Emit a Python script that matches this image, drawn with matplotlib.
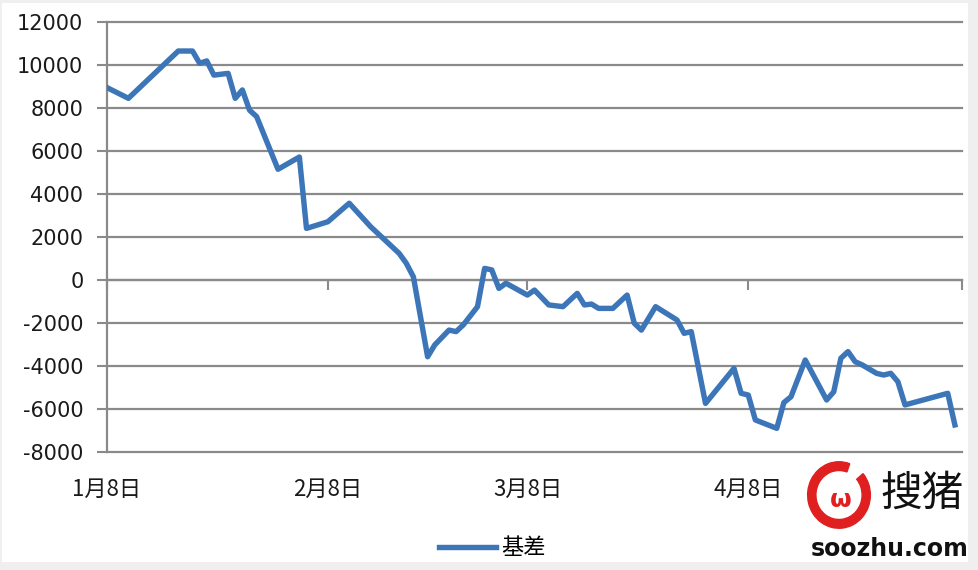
import numpy as np
import matplotlib
matplotlib.use('Agg')
from matplotlib import pyplot as plt
from matplotlib import patches
import matplotlib.dates as mdates

# day offsets from 1月8日 and the basis values
day_offset = [0, 3, 10, 12, 13, 14, 15, 17, 18, 19, 20, 21, 24, 27, 28, 31, 34, 37, 41, 42,
              43, 45, 46, 48, 49, 50, 52, 53, 54, 55, 56, 59, 60, 62, 64, 66, 67, 68, 69, 71,
              73, 74, 75, 77, 80, 81, 82, 84, 88, 89, 90, 91, 94, 95, 96, 98, 101, 102, 103, 104,
              105, 106, 108, 109, 110, 111, 112, 118, 119]
basis = [8950, 8450, 10650, 10650, 10080, 10190, 9530, 9610, 8450, 8840,
         7900, 7600, 5150, 5720, 2400, 2710, 3570, 2480, 1240, 780,
         150, -3570, -3020, -2330, -2400, -2090, -1240, 540, 470, -390,
         -150, -700, -470, -1160, -1240, -620, -1160, -1120, -1320, -1320,
         -700, -2010, -2330, -1240, -1860, -2480, -2400, -5740, -4110, -5270,
         -5350, -6510, -6900, -5700, -5430, -3720, -5580, -5200, -3640, -3330,
         -3800, -3950, -4340, -4420, -4340, -4730, -5810, -5270, -6740]

start_date = np.datetime64('2017-01-08')
month_ticks = ['2017-01-08', '2017-02-08', '2017-03-08', '2017-04-08', '2017-05-08']
month_labels = ['1月8日', '2月8日', '3月8日', '4月8日']
y_ticks = list(range(-8000, 12001, 2000))
series_name = '基差'

plt.rcParams['axes.unicode_minus'] = False
cjk = ['Noto Sans CJK SC', 'DejaVu Sans']
grid_col = '#8a8a8a'
line_col = '#3d76b8'

x = mdates.date2num(start_date + np.array(day_offset).astype('timedelta64[D]'))
xt = mdates.date2num(np.array(month_ticks, dtype='datetime64[D]'))

W, H = 979, 570
fig = plt.figure(figsize=(W/100, H/100), dpi=100)
fig.patch.set_facecolor('#efefef')
fig.add_artist(patches.Rectangle((2/W, 8/H), (968-2)/W, (567-8)/H, transform=fig.transFigure,
                                 facecolor='white', edgecolor='none', zorder=-5))

ax = fig.add_axes([107/W, 1-452/H, (962-107)/W, (452-22)/H])
ax.set_facecolor('none')

line, = ax.plot(x, basis, color=line_col, lw=3.9, solid_joinstyle='round', zorder=3)

ax.set_xlim(xt[0], xt[-1])
ax.set_ylim(-8000, 12000)
ax.set_yticks(y_ticks)
ax.yaxis.grid(True, color=grid_col, lw=1.6)
for gl in ax.get_ygridlines():
    gl.set_clip_on(False)
ax.tick_params(axis='y', length=7, width=1.5, color=grid_col, pad=10, labelsize=15, labelcolor='#1a1a1a')

ax.spines['top'].set_visible(False)
ax.spines['right'].set_visible(False)
ax.spines['left'].set_color(grid_col)
ax.spines['left'].set_linewidth(1.6)
ax.spines['bottom'].set_position(('data', 0))
ax.spines['bottom'].set_color(grid_col)
ax.spines['bottom'].set_linewidth(1.6)
ax.set_xticks(xt)
ax.tick_params(axis='x', length=7, width=1.5, color=grid_col, labelbottom=False)

for xv, lab in zip(xt, month_labels):
    ax.text(xv, -0.088, lab, transform=ax.get_xaxis_transform(), ha='center', va='center',
            fontsize=16, family=cjk, color='#1a1a1a')

fig.legend(handles=[line], labels=[series_name], loc='center', bbox_to_anchor=(492/W, 1-548/H),
           frameon=False, prop={'family': cjk, 'size': 16}, handlelength=2.6, handletextpad=0.2)

# watermark
lax = fig.add_axes([806/W, 1-530/H, 66/W, 70/H])
lax.set_xlim(-1, 1)
lax.set_ylim(-1, 1)
lax.axis('off')
lax.add_patch(patches.Wedge((0, 0), 0.95, 70, 400, width=0.25, color='#e02020'))
lax.text(0.05, -0.15, 'ω', ha='center', va='center', fontsize=18, color='#e02020', fontweight='bold')
fig.text(922/W, 1-494/H, '搜猪', ha='center', va='center', fontsize=30, family=cjk, color='#111111')
fig.text(890/W, 1-549/H, 'soozhu.com', ha='center', va='center', fontsize=17, fontweight='bold',
         color='#111111')

fig.savefig('out.png', dpi=100, facecolor=fig.get_facecolor())
